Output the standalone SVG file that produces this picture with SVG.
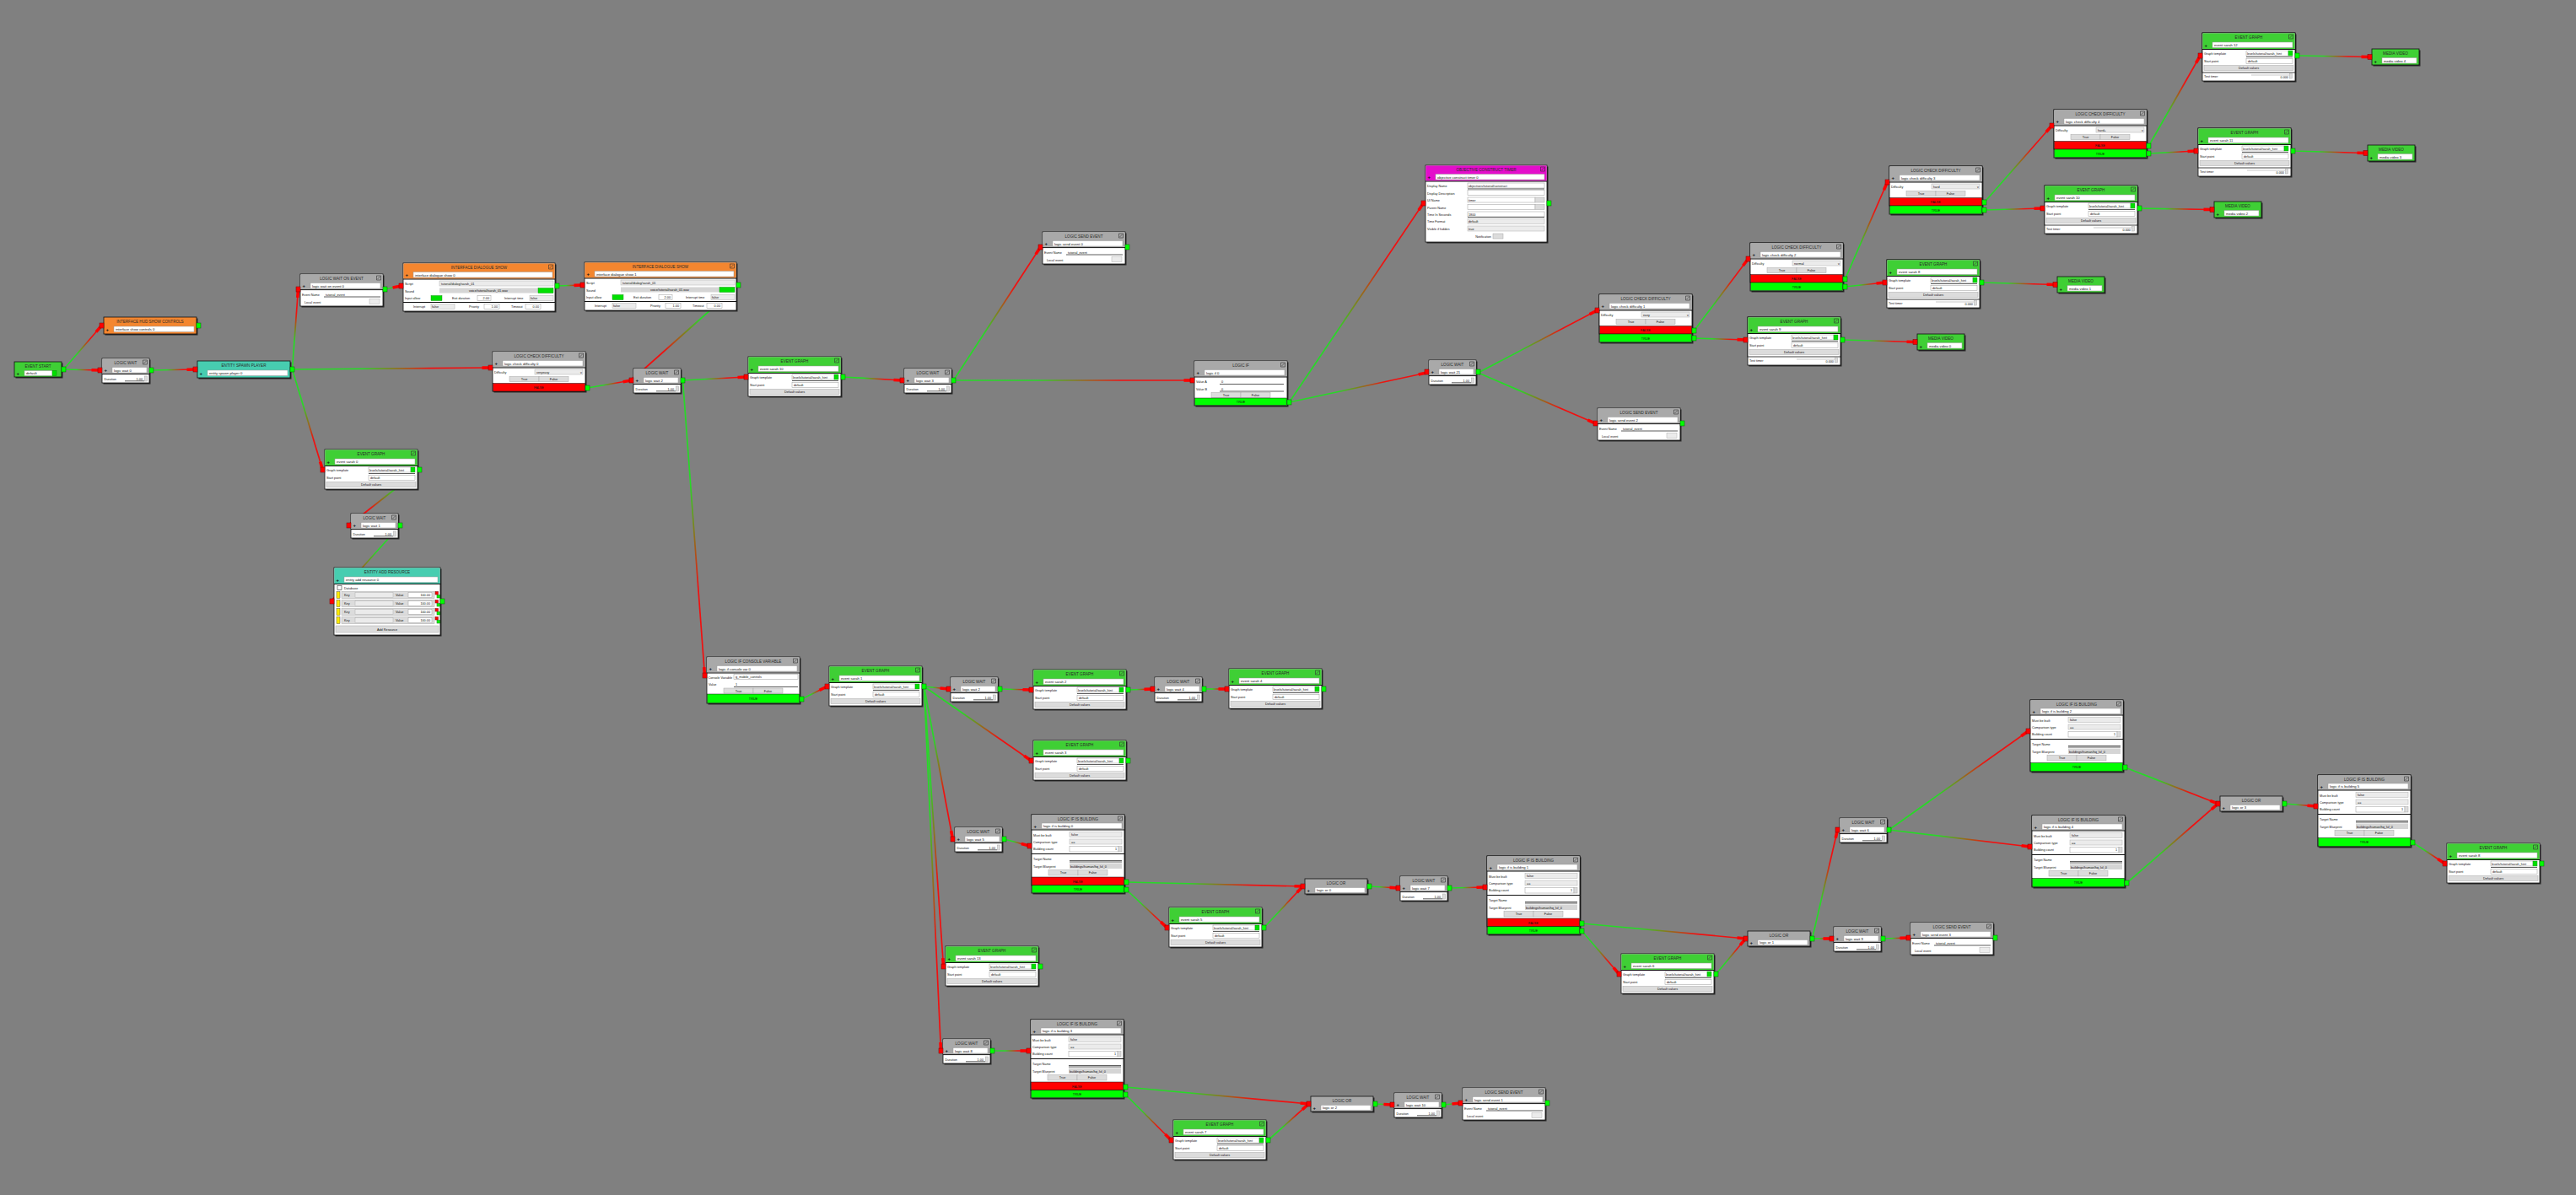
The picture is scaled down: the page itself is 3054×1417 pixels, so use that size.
<svg xmlns="http://www.w3.org/2000/svg" xmlns:xlink="http://www.w3.org/1999/xlink" width="3054" height="1417" viewBox="0 0 3054 1417">
<style>
text{font-family:"Liberation Sans",Arial,sans-serif}
.ti{font-size:4.6px;fill:#2a2a2a;text-anchor:middle}
.nm{font-size:4.2px;fill:#111}
.lb{font-size:3.8px;fill:#111}
.lc{font-size:3.8px;fill:#111;text-anchor:middle}
.lr{font-size:3.8px;fill:#111;text-anchor:end}
.pl{font-size:6px;fill:#111;font-weight:bold}
.sd{fill:#2b2b2b}
.bx{stroke:#111;stroke-width:.8}
.wh{fill:#fff}
.hg{fill:#3fcf35}
.hl{fill:#a9a9a9}
.ht{fill:#47cdb0}
.ho{fill:#f4862f}
.hm{fill:#e40dcb}
.fd{fill:#fff;stroke:#9a9a9a;stroke-width:.5}
.dd{fill:#ebebeb;stroke:#b0b0b0;stroke-width:.5}
.bt{fill:#dcdcdc;stroke:#a8a8a8;stroke-width:.5}
.gf{fill:#d5d5d5}
.gb{fill:#00e000;stroke:#080;stroke-width:.4}
.ci{fill:none;stroke:#333;stroke-width:.6}
.sp{stroke:#111;stroke-width:1}
.ul{stroke:#333;stroke-width:.8}
.rf{fill:#ff0000;stroke:#111;stroke-width:.5}
.gt{fill:#00ff00;stroke:#111;stroke-width:.5}
.pi{fill:#ff0000;stroke:#700;stroke-width:.5}
.po{fill:#00ff00;stroke:#060;stroke-width:.5}
.yh{fill:#ffeb00;stroke:#333;stroke-width:.4}
.cn{fill:none;stroke-width:1.7;marker-end:url(#ah)}
</style>
<defs>
<marker id="ah" markerUnits="userSpaceOnUse" markerWidth="10" markerHeight="4" refX="10" refY="2" orient="auto" overflow="visible"><rect x="0" y="0.2" width="10" height="3.6" fill="#f00"/></marker>
<linearGradient id="gc"><stop offset=".35" stop-color="#27d927"/><stop offset=".7" stop-color="#f01010"/></linearGradient>
<g id="tStart">
<rect class="sd" x="1.5" y="1.5" width="56" height="18"/>
<rect class="bx hg" width="56" height="18"/>
<text class="pl" x="2.5" y="16">+</text>
<rect class="fd" x="12" y="10.5" width="33" height="6"/>
<rect class="gb" x="45" y="10.5" width="5" height="6"/>
<rect class="po" x="56" y="6" width="5" height="6"/>
</g>
<g id="tHud">
<rect class="sd" x="1.5" y="1.5" width="110" height="20"/>
<rect class="bx ho" width="110" height="20"/>
<text class="pl" x="2.5" y="17">+</text>
<rect class="fd" x="12" y="11" width="95" height="6.5"/>
<rect class="pi" x="-5" y="7" width="5" height="6"/>
<rect class="po" x="110" y="7" width="5" height="6"/>
</g>
<g id="tSpawn">
<rect class="sd" x="1.5" y="1.5" width="110" height="20"/>
<rect class="bx ht" width="110" height="20"/>
<text class="pl" x="2.5" y="17">+</text>
<rect class="fd" x="12" y="11" width="95" height="6.5"/>
<rect class="pi" x="-5" y="7" width="5" height="6"/>
<rect class="po" x="110" y="7" width="5" height="6"/>
</g>
<g id="tWait">
<rect class="sd" x="1.5" y="1.5" width="56" height="29"/>
<rect class="bx wh" width="56" height="29"/>
<rect class="hl" x=".4" y=".4" width="55.2" height="17.8"/>
<path class="ci" d="M48.5 2h5v5h-5z M49.5 6l3-3"/>
<text class="pl" x="2.5" y="16">+</text>
<rect class="fd" x="12" y="10.5" width="41" height="6.5"/>
<line class="sp" x1="0" y1="18.6" x2="56" y2="18.6"/>
<text class="lb" x="2.5" y="25.5">Duration</text>
<line class="ul" x1="27" y1="26.8" x2="50" y2="26.8"/>
<text class="lr" x="48" y="25.5">1.00</text>
<rect class="bt" x="50.5" y="21" width="3" height="6"/>
<rect class="pi" x="-5" y="11" width="5" height="6"/>
<rect class="po" x="56" y="11" width="5" height="6"/>
</g>
<g id="tSend">
<rect class="sd" x="1.5" y="1.5" width="98" height="38"/>
<rect class="bx wh" width="98" height="38"/>
<rect class="hl" x=".4" y=".4" width="97.2" height="17.8"/>
<path class="ci" d="M90.5 2h5v5h-5z M91.5 6l3-3"/>
<text class="pl" x="2.5" y="16">+</text>
<rect class="fd" x="12" y="10.5" width="83" height="6.5"/>
<line class="sp" x1="0" y1="18.6" x2="98" y2="18.6"/>
<text class="lb" x="2" y="25.5">Event Name</text>
<line class="ul" x1="28" y1="27" x2="95" y2="27"/>
<text class="lb" x="30" y="25.5">tutorial_event</text>
<text class="lb" x="5" y="34.5">Local event</text>
<rect class="dd" x="82" y="29.5" width="12" height="6"/>
<rect class="pi" x="-5" y="15" width="5" height="6"/>
<rect class="po" x="98" y="15" width="5" height="6"/>
</g>
<g id="tGraphB">
<rect class="bx wh" width="110" height="47"/>
<rect class="hg" x=".4" y=".4" width="109.2" height="18.8"/>
<path class="ci" d="M102.5 2h5v5h-5z M103.5 6l3-3"/>
<text class="pl" x="2.5" y="16.5">+</text>
<rect class="fd" x="12" y="11" width="95" height="6.5"/>
<line class="sp" x1="0" y1="19.5" x2="110" y2="19.5"/>
<text class="lb" x="2" y="26">Graph template</text>
<rect class="fd" x="52" y="21" width="50" height="6"/>
<text class="lb" x="53" y="25.5">levels/tutorial/sarah_hint</text>
<rect class="gb" x="102" y="21" width="5" height="6"/>
<line class="ul" x1="52" y1="28.5" x2="107" y2="28.5"/>
<text class="lb" x="2" y="35">Start point</text>
<rect class="fd" x="52" y="30.5" width="55" height="6"/>
<text class="lb" x="54" y="35">default</text>
<rect class="bt" x="2" y="38.5" width="106" height="6"/>
<text class="lc" x="55" y="43">Default values</text>
</g>
<g id="tGraph">
<rect class="sd" x="1.5" y="1.5" width="110" height="47"/>
<use href="#tGraphB"/>
<rect class="pi" x="-5" y="21" width="5" height="6"/>
<rect class="po" x="110" y="21" width="5" height="6"/>
</g>
<g id="tGraphX">
<rect class="sd" x="1.5" y="1.5" width="110" height="57"/>
<rect class="bx wh" width="110" height="57"/>
<use href="#tGraphB"/>
<text class="lb" x="2" y="53">Test timer</text>
<line x1="58" y1="50" x2="103" y2="50" stroke="#bbb" stroke-width=".8"/>
<text class="lr" x="102" y="53.5">0.000</text>
<rect class="bt" x="103.5" y="48" width="3" height="6"/>
<rect class="pi" x="-5" y="24" width="5" height="6"/>
<rect class="po" x="110" y="24" width="5" height="6"/>
</g>
<g id="tCheckB">
<rect class="bx wh" width="110" height="47"/>
<rect class="hl" x=".4" y=".4" width="109.2" height="18.2"/>
<path class="ci" d="M102.5 2h5v5h-5z M103.5 6l3-3"/>
<text class="pl" x="2.5" y="16">+</text>
<rect class="fd" x="12" y="10.5" width="95" height="6.5"/>
<line class="sp" x1="0" y1="19" x2="110" y2="19"/>
<text class="lb" x="2" y="26">Difficulty</text>
<rect class="dd" x="50" y="21" width="57" height="6"/>
<text class="lb" x="104" y="25.5">v</text>
<rect class="bt" x="20" y="29.5" width="35" height="6"/>
<rect class="bt" x="55" y="29.5" width="35" height="6"/>
<text class="lc" x="37.5" y="34">True</text>
<text class="lc" x="72.5" y="34">False</text>
<rect class="rf" x=".4" y="37.5" width="109.2" height="9.5"/>
<text class="lc" x="55" y="44">FALSE</text>
<rect class="pi" x="-5" y="16" width="5" height="6"/>
<rect class="po" x="110" y="40" width="5" height="6"/>
</g>
<g id="tCheck">
<rect class="sd" x="1.5" y="1.5" width="110" height="57"/>
<rect class="bx wh" width="110" height="57"/>
<use href="#tCheckB"/>
<rect class="gt" x=".4" y="47" width="109.2" height="9.6"/>
<text class="lc" x="55" y="53.5">TRUE</text>
<rect class="po" x="110" y="49" width="5" height="6"/>
</g>
<g id="tCheckF">
<rect class="sd" x="1.5" y="1.5" width="110" height="47"/>
<use href="#tCheckB"/>
</g>
<g id="tIf">
<rect class="sd" x="1.5" y="1.5" width="110" height="53"/>
<rect class="bx wh" width="110" height="53"/>
<rect class="hl" x=".4" y=".4" width="109.2" height="18.2"/>
<path class="ci" d="M102.5 2h5v5h-5z M103.5 6l3-3"/>
<text class="pl" x="2.5" y="16">+</text>
<rect class="fd" x="12" y="10.5" width="95" height="6.5"/>
<line class="sp" x1="0" y1="19" x2="110" y2="19"/>
<text class="lb" x="2" y="26">Value A</text>
<line class="ul" x1="30" y1="27.5" x2="106" y2="27.5"/>
<text class="lb" x="32" y="26">0</text>
<text class="lb" x="2" y="34.5">Value B</text>
<line class="ul" x1="30" y1="36" x2="106" y2="36"/>
<text class="lb" x="32" y="34.5">0</text>
<rect class="bt" x="20" y="37.5" width="35" height="6"/>
<rect class="bt" x="55" y="37.5" width="35" height="6"/>
<text class="lc" x="37.5" y="42">True</text>
<text class="lc" x="72.5" y="42">False</text>
<rect class="gt" x=".4" y="44" width="109.2" height="8.6"/>
<text class="lc" x="55" y="50">TRUE</text>
<rect class="pi" x="-5" y="20" width="5" height="6"/>
<rect class="po" x="110" y="46" width="5" height="6"/>
</g>
<g id="tObj">
<rect class="sd" x="1.5" y="1.5" width="144" height="91"/>
<rect class="bx wh" width="144" height="91"/>
<rect class="hm" x=".4" y=".4" width="143.2" height="18.2"/>
<path class="ci" d="M136.5 2h5v5h-5z M137.5 6l3-3"/>
<text class="pl" x="2.5" y="16">+</text>
<rect class="fd" x="12" y="10.5" width="129" height="6.5"/>
<line class="sp" x1="0" y1="19" x2="144" y2="19"/>
<text class="lb" x="2" y="26">Display Name</text>
<rect class="fd" x="50" y="21" width="91" height="6"/>
<line class="ul" x1="50" y1="28" x2="141" y2="28"/>
<text class="lb" x="51" y="25.5">objectives/tutorial/construct</text>
<text class="lb" x="2" y="34.5">Display Description</text>
<rect class="fd" x="50" y="29.5" width="91" height="6"/>
<text class="lb" x="2" y="43">UI Name</text>
<rect class="fd" x="50" y="38" width="80" height="6"/>
<text class="lb" x="51" y="42.5">timer</text>
<rect class="bt" x="130" y="38" width="11" height="6"/>
<text class="lb" x="2" y="51.5">Parent Name</text>
<rect class="fd" x="50" y="46.5" width="80" height="6"/>
<rect class="bt" x="130" y="46.5" width="11" height="6"/>
<text class="lb" x="2" y="60">Time In Seconds</text>
<rect class="fd" x="50" y="55" width="91" height="6"/>
<line class="ul" x1="50" y1="61.5" x2="141" y2="61.5"/>
<text class="lb" x="51" y="59.5">1800</text>
<text class="lb" x="2" y="68">Time Format</text>
<rect class="dd" x="50" y="63.5" width="91" height="6"/>
<text class="lb" x="51" y="68">default</text>
<text class="lb" x="2" y="76.5">Visible if hidden</text>
<rect class="dd" x="50" y="72" width="91" height="6"/>
<text class="lb" x="51" y="76.5">true</text>
<text class="lr" x="78" y="86">Notification</text>
<rect class="bt" x="80" y="81" width="12" height="6"/>
<rect class="pi" x="-5" y="42" width="5" height="6"/>
<rect class="po" x="144" y="42" width="5" height="6"/>
</g>
<g id="tDlg">
<rect class="sd" x="1.5" y="1.5" width="180" height="57"/>
<rect class="bx wh" width="180" height="57"/>
<rect class="ho" x=".4" y=".4" width="179.2" height="18.2"/>
<path class="ci" d="M172.5 2h5v5h-5z M173.5 6l3-3"/>
<text class="pl" x="2.5" y="16">+</text>
<rect class="fd" x="12" y="10.5" width="165" height="6.5"/>
<line class="sp" x1="0" y1="19" x2="180" y2="19"/>
<text class="lb" x="2" y="26">Script</text>
<rect class="dd" x="43" y="21" width="135" height="6"/>
<text class="lb" x="45" y="25.5">tutorial/dialog/sarah_01</text>
<text class="lb" x="2" y="34.5">Sound</text>
<rect class="gf" x="43" y="29.5" width="117" height="6"/>
<text class="lc" x="101" y="34">voice/tutorial/sarah_01.wav</text>
<rect class="gb" x="160" y="29.5" width="18" height="6"/>
<text class="lb" x="2" y="43">Input allow</text>
<rect class="gb" x="33" y="38.5" width="13" height="6"/>
<text class="lb" x="58" y="43">Exit duration</text>
<rect class="fd" x="88" y="38.5" width="16" height="6"/>
<text class="lr" x="102" y="43">2.00</text>
<text class="lb" x="120" y="43">Interrupt time</text>
<rect class="dd" x="150" y="38.5" width="28" height="6"/>
<text class="lb" x="151" y="43">false</text>
<line class="sp" x1="0" y1="46.5" x2="180" y2="46.5"/>
<text class="lb" x="12" y="53">Interrupt</text>
<rect class="dd" x="33" y="48.5" width="28" height="6"/>
<text class="lb" x="34" y="53">false</text>
<text class="lb" x="78" y="53">Priority</text>
<rect class="fd" x="96" y="48.5" width="18" height="6"/>
<text class="lr" x="112" y="53">1.00</text>
<text class="lb" x="128" y="53">Timeout</text>
<rect class="fd" x="145" y="48.5" width="18" height="6"/>
<text class="lr" x="161" y="53">0.00</text>
<rect class="pi" x="-5" y="24" width="5" height="6"/>
<rect class="po" x="180" y="24" width="5" height="6"/>
</g>
<g id="tVideo">
<rect class="sd" x="1.5" y="1.5" width="56" height="19"/>
<rect class="bx hg" width="56" height="19"/>
<text class="pl" x="2.5" y="16.5">+</text>
<rect class="fd" x="12" y="10.5" width="41" height="6.5"/>
<rect class="pi" x="-5" y="6.5" width="5" height="6"/>
</g>
<g id="tRow">
<rect class="yh" x="3" y=".5" width="4" height="8"/>
<rect class="bt" x="9" y=".5" width="110" height="8"/>
<text class="lb" x="12" y="6">Key</text>
<rect class="dd" x="25" y="1.5" width="45" height="6"/>
<text class="lb" x="73" y="6">Value</text>
<rect class="fd" x="88" y="1.5" width="28" height="6"/>
<text class="lr" x="114" y="6">100.00</text>
<rect class="pi" x="120" y=".5" width="3.5" height="3.5"/>
<rect class="po" x="122" y="4.5" width="3.5" height="3.5"/>
</g>
<g id="tRes">
<rect class="sd" x="1.5" y="1.5" width="126" height="80"/>
<rect class="bx wh" width="126" height="80"/>
<rect class="ht" x=".4" y=".4" width="125.2" height="18.8"/>
<text class="pl" x="2.5" y="16.5">+</text>
<rect class="fd" x="12" y="11" width="111" height="6.5"/>
<line class="sp" x1="0" y1="19.5" x2="126" y2="19.5"/>
<rect class="ci" x="4" y="21.5" width="5" height="5"/>
<text class="lb" x="12" y="26">Database</text>
<use href="#tRow" y="28"/>
<use href="#tRow" y="38"/>
<use href="#tRow" y="48"/>
<use href="#tRow" y="58"/>
<rect class="bt" x="2" y="69" width="122" height="8"/>
<text class="lc" x="63" y="74.5">Add Resource</text>
<rect class="pi" x="-5" y="37" width="5" height="6"/>
<rect class="po" x="126" y="37" width="5" height="6"/>
</g>
<g id="tCons">
<rect class="sd" x="1.5" y="1.5" width="110" height="55"/>
<rect class="bx wh" width="110" height="55"/>
<rect class="hl" x=".4" y=".4" width="109.2" height="18.2"/>
<path class="ci" d="M102.5 2h5v5h-5z M103.5 6l3-3"/>
<text class="pl" x="2.5" y="16">+</text>
<rect class="fd" x="12" y="10.5" width="95" height="6.5"/>
<line class="sp" x1="0" y1="19" x2="110" y2="19"/>
<text class="lb" x="1.5" y="25.5">Console Variable</text>
<rect class="fd" x="32" y="20.5" width="76" height="6"/>
<text class="lb" x="34" y="25">g_mobile_controls</text>
<text class="lb" x="2" y="34">Value</text>
<line class="ul" x1="32" y1="35.5" x2="108" y2="35.5"/>
<text class="lb" x="34" y="34">1</text>
<rect class="bt" x="20" y="37" width="35" height="6"/>
<rect class="bt" x="55" y="37" width="35" height="6"/>
<text class="lc" x="37.5" y="41.5">True</text>
<text class="lc" x="72.5" y="41.5">False</text>
<rect class="gt" x=".4" y="44" width="109.2" height="10.6"/>
<text class="lc" x="55" y="50.5">TRUE</text>
<rect class="pi" x="-5" y="19" width="5" height="6"/>
<rect class="po" x="110" y="47" width="5" height="6"/>
</g>
<g id="tBldB">
<rect class="bx wh" width="110" height="84"/>
<rect class="hl" x=".4" y=".4" width="109.2" height="17.2"/>
<path class="ci" d="M102.5 2h5v5h-5z M103.5 6l3-3"/>
<text class="pl" x="2.5" y="15.5">+</text>
<rect class="fd" x="12" y="10" width="95" height="6.5"/>
<line class="sp" x1="0" y1="18" x2="110" y2="18"/>
<text class="lb" x="2" y="25.5">Must be built</text>
<rect class="dd" x="45" y="20.5" width="62" height="6"/>
<text class="lb" x="47" y="25">false</text>
<text class="lb" x="2" y="34">Comparison type</text>
<rect class="dd" x="45" y="29" width="62" height="6"/>
<text class="lb" x="47" y="33.5">==</text>
<text class="lb" x="2" y="42">Building count</text>
<rect class="fd" x="45" y="37.5" width="58" height="6.5"/>
<text class="lr" x="101" y="42">1</text>
<rect class="bt" x="103" y="37.5" width="4" height="6.5"/>
<line class="sp" x1="0" y1="46.5" x2="110" y2="46.5"/>
<text class="lb" x="2" y="54">Target Name</text>
<line class="ul" x1="45" y1="54.5" x2="107" y2="54.5"/>
<line class="ul" x1="45" y1="56" x2="107" y2="56"/>
<text class="lb" x="2" y="62.5">Target Blueprint</text>
<rect class="gf" x="45" y="57.5" width="62" height="6.5"/>
<text class="lb" x="46" y="62.5">buildings/human/hq_lvl_0</text>
<rect class="bt" x="20" y="65.5" width="35" height="6.5"/>
<rect class="bt" x="55" y="65.5" width="35" height="6.5"/>
<text class="lc" x="37.5" y="70.3">True</text>
<text class="lc" x="72.5" y="70.3">False</text>
<rect class="pi" x="-5" y="34" width="5" height="6"/>
</g>
<g id="tBld">
<rect class="sd" x="1.5" y="1.5" width="110" height="93"/>
<rect class="bx wh" width="110" height="93"/>
<use href="#tBldB"/>
<rect class="rf" x=".4" y="74" width="109.2" height="9.8"/>
<text class="lc" x="55" y="80.5">FALSE</text>
<rect class="gt" x=".4" y="83.8" width="109.2" height="8.8"/>
<text class="lc" x="55" y="90">TRUE</text>
<rect class="po" x="110" y="77" width="5" height="6"/>
<rect class="po" x="110" y="86" width="5" height="6"/>
</g>
<g id="tBldT">
<rect class="sd" x="1.5" y="1.5" width="110" height="85"/>
<rect class="bx wh" width="110" height="85"/>
<use href="#tBldB"/>
<rect class="gt" x=".4" y="74.5" width="109.2" height="10.1"/>
<text class="lc" x="55" y="81">TRUE</text>
<rect class="po" x="110" y="77" width="5" height="6"/>
</g>
<g id="tOr">
<rect class="sd" x="1.5" y="1.5" width="74" height="18"/>
<rect class="bx hl" width="74" height="18"/>
<text class="pl" x="2.5" y="16">+</text>
<rect class="fd" x="12" y="10.5" width="59" height="6"/>
<rect class="pi" x="-5" y="6" width="5" height="6"/>
<rect class="po" x="74" y="6" width="5" height="6"/>
</g>
<linearGradient id="c1" href="#gc" gradientUnits="userSpaceOnUse" x1="75.5" y1="438" x2="120.5" y2="386"/>
<linearGradient id="c2" href="#gc" gradientUnits="userSpaceOnUse" x1="75.5" y1="438" x2="118.5" y2="439"/>
<linearGradient id="c3" href="#gc" gradientUnits="userSpaceOnUse" x1="179.5" y1="439" x2="231.5" y2="438"/>
<linearGradient id="c4" href="#gc" gradientUnits="userSpaceOnUse" x1="346.5" y1="438" x2="353.5" y2="343"/>
<linearGradient id="c5" href="#gc" gradientUnits="userSpaceOnUse" x1="346.5" y1="438" x2="581.5" y2="436"/>
<linearGradient id="c6" href="#gc" gradientUnits="userSpaceOnUse" x1="346.5" y1="438" x2="382.5" y2="557"/>
<linearGradient id="c7" href="#gc" gradientUnits="userSpaceOnUse" x1="456.5" y1="343" x2="475.5" y2="339"/>
<linearGradient id="c8" href="#gc" gradientUnits="userSpaceOnUse" x1="660.5" y1="339" x2="690.5" y2="338"/>
<linearGradient id="c9" href="#gc" gradientUnits="userSpaceOnUse" x1="696.5" y1="460" x2="748.5" y2="451"/>
<linearGradient id="c10" href="#gc" gradientUnits="userSpaceOnUse" x1="875.5" y1="338" x2="748.5" y2="451"/>
<linearGradient id="c11" href="#gc" gradientUnits="userSpaceOnUse" x1="809.5" y1="451" x2="884.5" y2="447"/>
<linearGradient id="c12" href="#gc" gradientUnits="userSpaceOnUse" x1="809.5" y1="451" x2="835.5" y2="801"/>
<linearGradient id="c13" href="#gc" gradientUnits="userSpaceOnUse" x1="497.5" y1="557" x2="413.5" y2="623"/>
<linearGradient id="c14" href="#gc" gradientUnits="userSpaceOnUse" x1="474.5" y1="623" x2="393.5" y2="713"/>
<linearGradient id="c15" href="#gc" gradientUnits="userSpaceOnUse" x1="999.5" y1="447" x2="1069.5" y2="451"/>
<linearGradient id="c16" href="#gc" gradientUnits="userSpaceOnUse" x1="1130.5" y1="451" x2="1233.5" y2="293"/>
<linearGradient id="c17" href="#gc" gradientUnits="userSpaceOnUse" x1="1130.5" y1="451" x2="1413.5" y2="451"/>
<linearGradient id="c18" href="#gc" gradientUnits="userSpaceOnUse" x1="1528.5" y1="477" x2="1687.5" y2="241"/>
<linearGradient id="c19" href="#gc" gradientUnits="userSpaceOnUse" x1="1528.5" y1="477" x2="1691.5" y2="442"/>
<linearGradient id="c20" href="#gc" gradientUnits="userSpaceOnUse" x1="1752.5" y1="442" x2="1893.5" y2="368"/>
<linearGradient id="c21" href="#gc" gradientUnits="userSpaceOnUse" x1="1752.5" y1="442" x2="1891.5" y2="502"/>
<linearGradient id="c22" href="#gc" gradientUnits="userSpaceOnUse" x1="2008.5" y1="392" x2="2072.5" y2="307"/>
<linearGradient id="c23" href="#gc" gradientUnits="userSpaceOnUse" x1="2008.5" y1="401" x2="2069.5" y2="403"/>
<linearGradient id="c24" href="#gc" gradientUnits="userSpaceOnUse" x1="2184.5" y1="403" x2="2270.5" y2="405.5"/>
<linearGradient id="c25" href="#gc" gradientUnits="userSpaceOnUse" x1="2187.5" y1="331" x2="2237.5" y2="216"/>
<linearGradient id="c26" href="#gc" gradientUnits="userSpaceOnUse" x1="2187.5" y1="340" x2="2234.5" y2="335"/>
<linearGradient id="c27" href="#gc" gradientUnits="userSpaceOnUse" x1="2349.5" y1="335" x2="2436.5" y2="337.5"/>
<linearGradient id="c28" href="#gc" gradientUnits="userSpaceOnUse" x1="2352.5" y1="240" x2="2432.5" y2="149"/>
<linearGradient id="c29" href="#gc" gradientUnits="userSpaceOnUse" x1="2352.5" y1="249" x2="2421.5" y2="247"/>
<linearGradient id="c30" href="#gc" gradientUnits="userSpaceOnUse" x1="2536.5" y1="247" x2="2622.5" y2="248.5"/>
<linearGradient id="c31" href="#gc" gradientUnits="userSpaceOnUse" x1="2547.5" y1="173" x2="2608.5" y2="66"/>
<linearGradient id="c32" href="#gc" gradientUnits="userSpaceOnUse" x1="2547.5" y1="182" x2="2603.5" y2="179"/>
<linearGradient id="c33" href="#gc" gradientUnits="userSpaceOnUse" x1="2723.5" y1="66" x2="2809.5" y2="67.5"/>
<linearGradient id="c34" href="#gc" gradientUnits="userSpaceOnUse" x1="2718.5" y1="179" x2="2804.5" y2="181.5"/>
<linearGradient id="c35" href="#gc" gradientUnits="userSpaceOnUse" x1="950.5" y1="829" x2="980.5" y2="814"/>
<linearGradient id="c36" href="#gc" gradientUnits="userSpaceOnUse" x1="1095.5" y1="814" x2="1124.5" y2="817"/>
<linearGradient id="c37" href="#gc" gradientUnits="userSpaceOnUse" x1="1095.5" y1="814" x2="1222.5" y2="902"/>
<linearGradient id="c38" href="#gc" gradientUnits="userSpaceOnUse" x1="1095.5" y1="814" x2="1129.5" y2="995"/>
<linearGradient id="c39" href="#gc" gradientUnits="userSpaceOnUse" x1="1095.5" y1="814" x2="1118.5" y2="1146"/>
<linearGradient id="c40" href="#gc" gradientUnits="userSpaceOnUse" x1="1095.5" y1="814" x2="1115.5" y2="1246"/>
<linearGradient id="c41" href="#gc" gradientUnits="userSpaceOnUse" x1="1185.5" y1="817" x2="1222.5" y2="818"/>
<linearGradient id="c42" href="#gc" gradientUnits="userSpaceOnUse" x1="1337.5" y1="818" x2="1366.5" y2="817"/>
<linearGradient id="c43" href="#gc" gradientUnits="userSpaceOnUse" x1="1427.5" y1="817" x2="1454.5" y2="817"/>
<linearGradient id="c44" href="#gc" gradientUnits="userSpaceOnUse" x1="1190.5" y1="995" x2="1220.5" y2="1003"/>
<linearGradient id="c45" href="#gc" gradientUnits="userSpaceOnUse" x1="1335.5" y1="1046" x2="1544.5" y2="1051"/>
<linearGradient id="c46" href="#gc" gradientUnits="userSpaceOnUse" x1="1335.5" y1="1055" x2="1383.5" y2="1100"/>
<linearGradient id="c47" href="#gc" gradientUnits="userSpaceOnUse" x1="1498.5" y1="1100" x2="1544.5" y2="1051"/>
<linearGradient id="c48" href="#gc" gradientUnits="userSpaceOnUse" x1="1623.5" y1="1051" x2="1657.5" y2="1053"/>
<linearGradient id="c49" href="#gc" gradientUnits="userSpaceOnUse" x1="1718.5" y1="1053" x2="1760.5" y2="1052"/>
<linearGradient id="c50" href="#gc" gradientUnits="userSpaceOnUse" x1="1875.5" y1="1095" x2="2069.5" y2="1113"/>
<linearGradient id="c51" href="#gc" gradientUnits="userSpaceOnUse" x1="1875.5" y1="1104" x2="1919.5" y2="1155"/>
<linearGradient id="c52" href="#gc" gradientUnits="userSpaceOnUse" x1="2034.5" y1="1155" x2="2069.5" y2="1113"/>
<linearGradient id="c53" href="#gc" gradientUnits="userSpaceOnUse" x1="2148.5" y1="1113" x2="2171.5" y2="1113"/>
<linearGradient id="c54" href="#gc" gradientUnits="userSpaceOnUse" x1="2148.5" y1="1113" x2="2178.5" y2="984"/>
<linearGradient id="c55" href="#gc" gradientUnits="userSpaceOnUse" x1="2232.5" y1="1113" x2="2262.5" y2="1112"/>
<linearGradient id="c56" href="#gc" gradientUnits="userSpaceOnUse" x1="2239.5" y1="984" x2="2404.5" y2="867"/>
<linearGradient id="c57" href="#gc" gradientUnits="userSpaceOnUse" x1="2239.5" y1="984" x2="2406.5" y2="1004"/>
<linearGradient id="c58" href="#gc" gradientUnits="userSpaceOnUse" x1="2519.5" y1="910" x2="2629.5" y2="953"/>
<linearGradient id="c59" href="#gc" gradientUnits="userSpaceOnUse" x1="2521.5" y1="1047" x2="2629.5" y2="953"/>
<linearGradient id="c60" href="#gc" gradientUnits="userSpaceOnUse" x1="2708.5" y1="953" x2="2745.5" y2="956"/>
<linearGradient id="c61" href="#gc" gradientUnits="userSpaceOnUse" x1="2860.5" y1="999" x2="2898.5" y2="1024"/>
<linearGradient id="c62" href="#gc" gradientUnits="userSpaceOnUse" x1="1176.5" y1="1246" x2="1219.5" y2="1246"/>
<linearGradient id="c63" href="#gc" gradientUnits="userSpaceOnUse" x1="1334.5" y1="1289" x2="1551.5" y2="1309"/>
<linearGradient id="c64" href="#gc" gradientUnits="userSpaceOnUse" x1="1334.5" y1="1298" x2="1388.5" y2="1352"/>
<linearGradient id="c65" href="#gc" gradientUnits="userSpaceOnUse" x1="1503.5" y1="1352" x2="1551.5" y2="1309"/>
<linearGradient id="c66" href="#gc" gradientUnits="userSpaceOnUse" x1="1630.5" y1="1309" x2="1650.5" y2="1310"/>
<linearGradient id="c67" href="#gc" gradientUnits="userSpaceOnUse" x1="1711.5" y1="1310" x2="1731.5" y2="1308"/>
</defs>
<rect width="3054" height="1417" fill="#808080"/>
<g id="connectors">
<line class="cn" stroke="url(#c1)" x1="75.5" y1="438" x2="120.5" y2="386"/>
<line class="cn" stroke="url(#c2)" x1="75.5" y1="438" x2="118.5" y2="439"/>
<line class="cn" stroke="url(#c3)" x1="179.5" y1="439" x2="231.5" y2="438"/>
<line class="cn" stroke="url(#c4)" x1="346.5" y1="438" x2="353.5" y2="343"/>
<line class="cn" stroke="url(#c5)" x1="346.5" y1="438" x2="581.5" y2="436"/>
<line class="cn" stroke="url(#c6)" x1="346.5" y1="438" x2="382.5" y2="557"/>
<line class="cn" stroke="url(#c7)" x1="456.5" y1="343" x2="475.5" y2="339"/>
<line class="cn" stroke="url(#c8)" x1="660.5" y1="339" x2="690.5" y2="338"/>
<line class="cn" stroke="url(#c9)" x1="696.5" y1="460" x2="748.5" y2="451"/>
<line class="cn" stroke="url(#c10)" x1="875.5" y1="338" x2="748.5" y2="451"/>
<line class="cn" stroke="url(#c11)" x1="809.5" y1="451" x2="884.5" y2="447"/>
<line class="cn" stroke="url(#c12)" x1="809.5" y1="451" x2="835.5" y2="801"/>
<line class="cn" stroke="url(#c13)" x1="497.5" y1="557" x2="413.5" y2="623"/>
<line class="cn" stroke="url(#c14)" x1="474.5" y1="623" x2="393.5" y2="713"/>
<line class="cn" stroke="url(#c15)" x1="999.5" y1="447" x2="1069.5" y2="451"/>
<line class="cn" stroke="url(#c16)" x1="1130.5" y1="451" x2="1233.5" y2="293"/>
<line class="cn" stroke="url(#c17)" x1="1130.5" y1="451" x2="1413.5" y2="451"/>
<line class="cn" stroke="url(#c18)" x1="1528.5" y1="477" x2="1687.5" y2="241"/>
<line class="cn" stroke="url(#c19)" x1="1528.5" y1="477" x2="1691.5" y2="442"/>
<line class="cn" stroke="url(#c20)" x1="1752.5" y1="442" x2="1893.5" y2="368"/>
<line class="cn" stroke="url(#c21)" x1="1752.5" y1="442" x2="1891.5" y2="502"/>
<line class="cn" stroke="url(#c22)" x1="2008.5" y1="392" x2="2072.5" y2="307"/>
<line class="cn" stroke="url(#c23)" x1="2008.5" y1="401" x2="2069.5" y2="403"/>
<line class="cn" stroke="url(#c24)" x1="2184.5" y1="403" x2="2270.5" y2="405.5"/>
<line class="cn" stroke="url(#c25)" x1="2187.5" y1="331" x2="2237.5" y2="216"/>
<line class="cn" stroke="url(#c26)" x1="2187.5" y1="340" x2="2234.5" y2="335"/>
<line class="cn" stroke="url(#c27)" x1="2349.5" y1="335" x2="2436.5" y2="337.5"/>
<line class="cn" stroke="url(#c28)" x1="2352.5" y1="240" x2="2432.5" y2="149"/>
<line class="cn" stroke="url(#c29)" x1="2352.5" y1="249" x2="2421.5" y2="247"/>
<line class="cn" stroke="url(#c30)" x1="2536.5" y1="247" x2="2622.5" y2="248.5"/>
<line class="cn" stroke="url(#c31)" x1="2547.5" y1="173" x2="2608.5" y2="66"/>
<line class="cn" stroke="url(#c32)" x1="2547.5" y1="182" x2="2603.5" y2="179"/>
<line class="cn" stroke="url(#c33)" x1="2723.5" y1="66" x2="2809.5" y2="67.5"/>
<line class="cn" stroke="url(#c34)" x1="2718.5" y1="179" x2="2804.5" y2="181.5"/>
<line class="cn" stroke="url(#c35)" x1="950.5" y1="829" x2="980.5" y2="814"/>
<line class="cn" stroke="url(#c36)" x1="1095.5" y1="814" x2="1124.5" y2="817"/>
<line class="cn" stroke="url(#c37)" x1="1095.5" y1="814" x2="1222.5" y2="902"/>
<line class="cn" stroke="url(#c38)" x1="1095.5" y1="814" x2="1129.5" y2="995"/>
<line class="cn" stroke="url(#c39)" x1="1095.5" y1="814" x2="1118.5" y2="1146"/>
<line class="cn" stroke="url(#c40)" x1="1095.5" y1="814" x2="1115.5" y2="1246"/>
<line class="cn" stroke="url(#c41)" x1="1185.5" y1="817" x2="1222.5" y2="818"/>
<line class="cn" stroke="url(#c42)" x1="1337.5" y1="818" x2="1366.5" y2="817"/>
<line class="cn" stroke="url(#c43)" x1="1427.5" y1="817" x2="1454.5" y2="817"/>
<line class="cn" stroke="url(#c44)" x1="1190.5" y1="995" x2="1220.5" y2="1003"/>
<line class="cn" stroke="url(#c45)" x1="1335.5" y1="1046" x2="1544.5" y2="1051"/>
<line class="cn" stroke="url(#c46)" x1="1335.5" y1="1055" x2="1383.5" y2="1100"/>
<line class="cn" stroke="url(#c47)" x1="1498.5" y1="1100" x2="1544.5" y2="1051"/>
<line class="cn" stroke="url(#c48)" x1="1623.5" y1="1051" x2="1657.5" y2="1053"/>
<line class="cn" stroke="url(#c49)" x1="1718.5" y1="1053" x2="1760.5" y2="1052"/>
<line class="cn" stroke="url(#c50)" x1="1875.5" y1="1095" x2="2069.5" y2="1113"/>
<line class="cn" stroke="url(#c51)" x1="1875.5" y1="1104" x2="1919.5" y2="1155"/>
<line class="cn" stroke="url(#c52)" x1="2034.5" y1="1155" x2="2069.5" y2="1113"/>
<line class="cn" stroke="url(#c53)" x1="2148.5" y1="1113" x2="2171.5" y2="1113"/>
<line class="cn" stroke="url(#c54)" x1="2148.5" y1="1113" x2="2178.5" y2="984"/>
<line class="cn" stroke="url(#c55)" x1="2232.5" y1="1113" x2="2262.5" y2="1112"/>
<line class="cn" stroke="url(#c56)" x1="2239.5" y1="984" x2="2404.5" y2="867"/>
<line class="cn" stroke="url(#c57)" x1="2239.5" y1="984" x2="2406.5" y2="1004"/>
<line class="cn" stroke="url(#c58)" x1="2519.5" y1="910" x2="2629.5" y2="953"/>
<line class="cn" stroke="url(#c59)" x1="2521.5" y1="1047" x2="2629.5" y2="953"/>
<line class="cn" stroke="url(#c60)" x1="2708.5" y1="953" x2="2745.5" y2="956"/>
<line class="cn" stroke="url(#c61)" x1="2860.5" y1="999" x2="2898.5" y2="1024"/>
<line class="cn" stroke="url(#c62)" x1="1176.5" y1="1246" x2="1219.5" y2="1246"/>
<line class="cn" stroke="url(#c63)" x1="1334.5" y1="1289" x2="1551.5" y2="1309"/>
<line class="cn" stroke="url(#c64)" x1="1334.5" y1="1298" x2="1388.5" y2="1352"/>
<line class="cn" stroke="url(#c65)" x1="1503.5" y1="1352" x2="1551.5" y2="1309"/>
<line class="cn" stroke="url(#c66)" x1="1630.5" y1="1309" x2="1650.5" y2="1310"/>
<line class="cn" stroke="url(#c67)" x1="1711.5" y1="1310" x2="1731.5" y2="1308"/>
</g>
<g id="n1" transform="translate(17,429)"><use href="#tStart"/><text class="ti" x="28" y="6.8">EVENT START</text><text class="nm" x="14" y="15.3">default</text></g>
<g id="n2" transform="translate(123,376)"><use href="#tHud"/><text class="ti" x="55" y="7.2">INTERFACE HUD SHOW CONTROLS</text><text class="nm" x="14" y="16">interface show controls 0</text></g>
<g id="n3" transform="translate(121,425)"><use href="#tWait"/><text class="ti" x="28" y="6.8">LOGIC WAIT</text><text class="nm" x="14" y="15.5">logic wait 0</text></g>
<g id="n4" transform="translate(234,428)"><use href="#tSpawn"/><text class="ti" x="55" y="7.2">ENTITY SPAWN PLAYER</text><text class="nm" x="14" y="16">entity spawn player 0</text></g>
<g id="n5" transform="translate(356,325)"><use href="#tSend"/><text class="ti" x="49" y="6.8">LOGIC WAIT ON EVENT</text><text class="nm" x="14" y="15.5">logic wait on event 0</text></g>
<g id="n6" transform="translate(385,533)"><use href="#tGraph"/><text class="ti" x="55" y="7">EVENT GRAPH</text><text class="nm" x="14" y="16">event sarah 0</text></g>
<g id="n7" transform="translate(416,609)"><use href="#tWait"/><text class="ti" x="28" y="6.8">LOGIC WAIT</text><text class="nm" x="14" y="15.5">logic wait 1</text></g>
<g id="n8" transform="translate(396,673)"><use href="#tRes"/><text class="ti" x="63" y="7">ENTITY ADD RESOURCE</text><text class="nm" x="14" y="16">entity add resource 0</text></g>
<g id="n9" transform="translate(478,312)"><use href="#tDlg"/><text class="ti" x="90" y="6.8">INTERFACE DIALOGUE SHOW</text><text class="nm" x="14" y="15.5">interface dialogue show 0</text></g>
<g id="n10" transform="translate(693,311)"><use href="#tDlg"/><text class="ti" x="90" y="6.8">INTERFACE DIALOGUE SHOW</text><text class="nm" x="14" y="15.5">interface dialogue show 1</text></g>
<g id="n11" transform="translate(584,417)"><use href="#tCheckF"/><text class="ti" x="55" y="6.8">LOGIC CHECK DIFFICULTY</text><text class="nm" x="14" y="15.5">logic check difficulty 0</text><text class="lb" x="52" y="25.5">veryeasy</text></g>
<g id="n12" transform="translate(751,437)"><use href="#tWait"/><text class="ti" x="28" y="6.8">LOGIC WAIT</text><text class="nm" x="14" y="15.5">logic wait 2</text></g>
<g id="n13" transform="translate(887,423)"><use href="#tGraph"/><text class="ti" x="55" y="7">EVENT GRAPH</text><text class="nm" x="14" y="16">event sarah 10</text></g>
<g id="n14" transform="translate(1072,437)"><use href="#tWait"/><text class="ti" x="28" y="6.8">LOGIC WAIT</text><text class="nm" x="14" y="15.5">logic wait 3</text></g>
<g id="n15" transform="translate(1236,275)"><use href="#tSend"/><text class="ti" x="49" y="6.8">LOGIC SEND EVENT</text><text class="nm" x="14" y="15.5">logic send event 0</text></g>
<g id="n16" transform="translate(1416,428)"><use href="#tIf"/><text class="ti" x="55" y="6.8">LOGIC IF</text><text class="nm" x="14" y="15.5">logic if 0</text></g>
<g id="n17" transform="translate(1690,196)"><use href="#tObj"/><text class="ti" x="72" y="6.8">OBJECTIVE CONSTRUCT TIMER</text><text class="nm" x="14" y="15.5">objective construct timer 0</text></g>
<g id="n18" transform="translate(1694,427)"><use href="#tWait"/><text class="ti" x="28" y="6.8">LOGIC WAIT</text><text class="nm" x="14" y="15.5">logic wait 21</text></g>
<g id="n19" transform="translate(1896,349)"><use href="#tCheck"/><text class="ti" x="55" y="6.8">LOGIC CHECK DIFFICULTY</text><text class="nm" x="14" y="15.5">logic check difficulty 1</text><text class="lb" x="52" y="25.5">easy</text></g>
<g id="n20" transform="translate(1894,484)"><use href="#tSend"/><text class="ti" x="49" y="6.8">LOGIC SEND EVENT</text><text class="nm" x="14" y="15.5">logic send event 2</text></g>
<g id="n21" transform="translate(2075,288)"><use href="#tCheck"/><text class="ti" x="55" y="6.8">LOGIC CHECK DIFFICULTY</text><text class="nm" x="14" y="15.5">logic check difficulty 2</text><text class="lb" x="52" y="25.5">normal</text></g>
<g id="n22" transform="translate(2072,376)"><use href="#tGraphX"/><text class="ti" x="55" y="7">EVENT GRAPH</text><text class="nm" x="14" y="16">event sarah 9</text></g>
<g id="n23" transform="translate(2273,396)"><use href="#tVideo"/><text class="ti" x="28" y="6.8">MEDIA VIDEO</text><text class="nm" x="14" y="15.5">media video 0</text></g>
<g id="n24" transform="translate(2240,197)"><use href="#tCheck"/><text class="ti" x="55" y="6.8">LOGIC CHECK DIFFICULTY</text><text class="nm" x="14" y="15.5">logic check difficulty 3</text><text class="lb" x="52" y="25.5">hard</text></g>
<g id="n25" transform="translate(2237,308)"><use href="#tGraphX"/><text class="ti" x="55" y="7">EVENT GRAPH</text><text class="nm" x="14" y="16">event sarah 8</text></g>
<g id="n26" transform="translate(2439,328)"><use href="#tVideo"/><text class="ti" x="28" y="6.8">MEDIA VIDEO</text><text class="nm" x="14" y="15.5">media video 1</text></g>
<g id="n27" transform="translate(2435,130)"><use href="#tCheck"/><text class="ti" x="55" y="6.8">LOGIC CHECK DIFFICULTY</text><text class="nm" x="14" y="15.5">logic check difficulty 4</text><text class="lb" x="52" y="25.5">hard+</text></g>
<g id="n28" transform="translate(2424,220)"><use href="#tGraphX"/><text class="ti" x="55" y="7">EVENT GRAPH</text><text class="nm" x="14" y="16">event sarah 10</text></g>
<g id="n29" transform="translate(2625,239)"><use href="#tVideo"/><text class="ti" x="28" y="6.8">MEDIA VIDEO</text><text class="nm" x="14" y="15.5">media video 2</text></g>
<g id="n30" transform="translate(2611,39)"><use href="#tGraphX"/><text class="ti" x="55" y="7">EVENT GRAPH</text><text class="nm" x="14" y="16">event sarah 12</text></g>
<g id="n31" transform="translate(2812,58)"><use href="#tVideo"/><text class="ti" x="28" y="6.8">MEDIA VIDEO</text><text class="nm" x="14" y="15.5">media video 4</text></g>
<g id="n32" transform="translate(2606,152)"><use href="#tGraphX"/><text class="ti" x="55" y="7">EVENT GRAPH</text><text class="nm" x="14" y="16">event sarah 11</text></g>
<g id="n33" transform="translate(2807,172)"><use href="#tVideo"/><text class="ti" x="28" y="6.8">MEDIA VIDEO</text><text class="nm" x="14" y="15.5">media video 3</text></g>
<g id="n34" transform="translate(838,779)"><use href="#tCons"/><text class="ti" x="55" y="6.8">LOGIC IF CONSOLE VARIABLE</text><text class="nm" x="14" y="15.5">logic if console var 0</text></g>
<g id="n35" transform="translate(983,790)"><use href="#tGraph"/><text class="ti" x="55" y="7">EVENT GRAPH</text><text class="nm" x="14" y="16">event sarah 1</text></g>
<g id="n36" transform="translate(1127,803)"><use href="#tWait"/><text class="ti" x="28" y="6.8">LOGIC WAIT</text><text class="nm" x="14" y="15.5">logic wait 2</text></g>
<g id="n37" transform="translate(1225,794)"><use href="#tGraph"/><text class="ti" x="55" y="7">EVENT GRAPH</text><text class="nm" x="14" y="16">event sarah 2</text></g>
<g id="n38" transform="translate(1369,803)"><use href="#tWait"/><text class="ti" x="28" y="6.8">LOGIC WAIT</text><text class="nm" x="14" y="15.5">logic wait 4</text></g>
<g id="n39" transform="translate(1457,793)"><use href="#tGraph"/><text class="ti" x="55" y="7">EVENT GRAPH</text><text class="nm" x="14" y="16">event sarah 4</text></g>
<g id="n40" transform="translate(1225,878)"><use href="#tGraph"/><text class="ti" x="55" y="7">EVENT GRAPH</text><text class="nm" x="14" y="16">event sarah 3</text></g>
<g id="n41" transform="translate(1132,981)"><use href="#tWait"/><text class="ti" x="28" y="6.8">LOGIC WAIT</text><text class="nm" x="14" y="15.5">logic wait 5</text></g>
<g id="n42" transform="translate(1223,966)"><use href="#tBld"/><text class="ti" x="55" y="6.5">LOGIC IF IS BUILDING</text><text class="nm" x="14" y="15">logic if is building 0</text></g>
<g id="n43" transform="translate(1386,1076)"><use href="#tGraph"/><text class="ti" x="55" y="7">EVENT GRAPH</text><text class="nm" x="14" y="16">event sarah 5</text></g>
<g id="n44" transform="translate(1547,1042)"><use href="#tOr"/><text class="ti" x="37" y="6.8">LOGIC OR</text><text class="nm" x="14" y="15.3">logic or 0</text></g>
<g id="n45" transform="translate(1660,1039)"><use href="#tWait"/><text class="ti" x="28" y="6.8">LOGIC WAIT</text><text class="nm" x="14" y="15.5">logic wait 7</text></g>
<g id="n46" transform="translate(1763,1015)"><use href="#tBld"/><text class="ti" x="55" y="6.5">LOGIC IF IS BUILDING</text><text class="nm" x="14" y="15">logic if is building 1</text></g>
<g id="n47" transform="translate(1922,1131)"><use href="#tGraph"/><text class="ti" x="55" y="7">EVENT GRAPH</text><text class="nm" x="14" y="16">event sarah 6</text></g>
<g id="n48" transform="translate(1121,1122)"><use href="#tGraph"/><text class="ti" x="55" y="7">EVENT GRAPH</text><text class="nm" x="14" y="16">event sarah 13</text></g>
<g id="n49" transform="translate(1118,1232)"><use href="#tWait"/><text class="ti" x="28" y="6.8">LOGIC WAIT</text><text class="nm" x="14" y="15.5">logic wait 8</text></g>
<g id="n50" transform="translate(1222,1209)"><use href="#tBld"/><text class="ti" x="55" y="6.5">LOGIC IF IS BUILDING</text><text class="nm" x="14" y="15">logic if is building 3</text></g>
<g id="n51" transform="translate(1554,1300)"><use href="#tOr"/><text class="ti" x="37" y="6.8">LOGIC OR</text><text class="nm" x="14" y="15.3">logic or 2</text></g>
<g id="n52" transform="translate(1653,1296)"><use href="#tWait"/><text class="ti" x="28" y="6.8">LOGIC WAIT</text><text class="nm" x="14" y="15.5">logic wait 10</text></g>
<g id="n53" transform="translate(1734,1290)"><use href="#tSend"/><text class="ti" x="49" y="6.8">LOGIC SEND EVENT</text><text class="nm" x="14" y="15.5">logic send event 1</text></g>
<g id="n54" transform="translate(1391,1328)"><use href="#tGraph"/><text class="ti" x="55" y="7">EVENT GRAPH</text><text class="nm" x="14" y="16">event sarah 7</text></g>
<g id="n55" transform="translate(2072,1104)"><use href="#tOr"/><text class="ti" x="37" y="6.8">LOGIC OR</text><text class="nm" x="14" y="15.3">logic or 1</text></g>
<g id="n56" transform="translate(2174,1099)"><use href="#tWait"/><text class="ti" x="28" y="6.8">LOGIC WAIT</text><text class="nm" x="14" y="15.5">logic wait 9</text></g>
<g id="n57" transform="translate(2265,1094)"><use href="#tSend"/><text class="ti" x="49" y="6.8">LOGIC SEND EVENT</text><text class="nm" x="14" y="15.5">logic send event 3</text></g>
<g id="n58" transform="translate(2181,970)"><use href="#tWait"/><text class="ti" x="28" y="6.8">LOGIC WAIT</text><text class="nm" x="14" y="15.5">logic wait 6</text></g>
<g id="n59" transform="translate(2407,830)"><use href="#tBldT"/><text class="ti" x="55" y="6.5">LOGIC IF IS BUILDING</text><text class="nm" x="14" y="15">logic if is building 2</text></g>
<g id="n60" transform="translate(2409,967)"><use href="#tBldT"/><text class="ti" x="55" y="6.5">LOGIC IF IS BUILDING</text><text class="nm" x="14" y="15">logic if is building 4</text></g>
<g id="n61" transform="translate(2632,944)"><use href="#tOr"/><text class="ti" x="37" y="6.8">LOGIC OR</text><text class="nm" x="14" y="15.3">logic or 3</text></g>
<g id="n62" transform="translate(2748,919)"><use href="#tBldT"/><text class="ti" x="55" y="6.5">LOGIC IF IS BUILDING</text><text class="nm" x="14" y="15">logic if is building 5</text></g>
<g id="n63" transform="translate(2901,1000)"><use href="#tGraph"/><text class="ti" x="55" y="7">EVENT GRAPH</text><text class="nm" x="14" y="16">event sarah 8</text></g>
</svg>
